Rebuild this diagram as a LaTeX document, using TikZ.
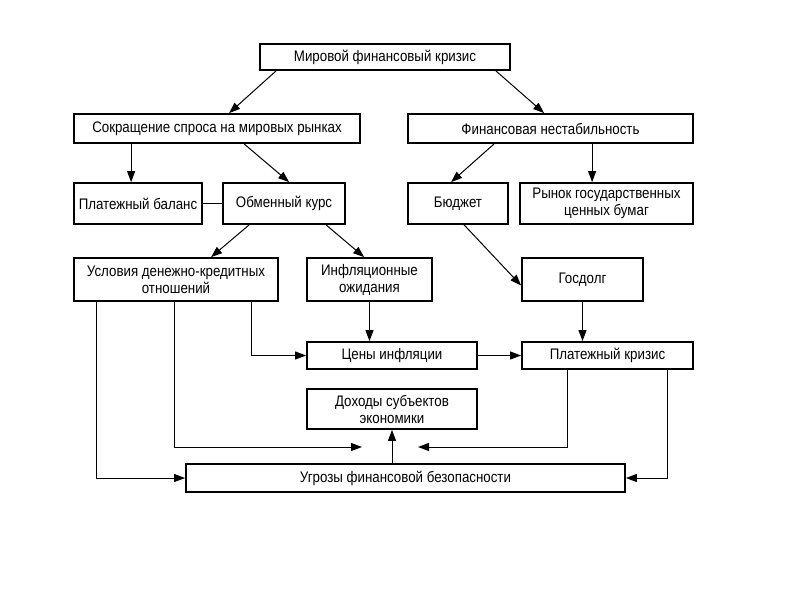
\documentclass[tikz,border=0pt]{standalone}
\usepackage{fontspec}
\setmainfont{Liberation Sans}[FakeStretch=0.87]
\usetikzlibrary{arrows.meta}
\begin{document}
\begin{tikzpicture}[x=1pt,y=-1pt,
  box/.style={draw=black, line width=1.8pt, inner sep=0pt, align=center,
    font=\fontsize{15.3}{17}\selectfont, text=black},
  arr/.style={line width=1pt, -{Triangle[length=11pt,width=8pt]}},
  ln/.style={line width=1pt}]
\useasboundingbox (0,0) rectangle (800,600);
\fill[white] (0,0) rectangle (800,600);
\node[box, minimum width=250pt, minimum height=26pt] (top) at (385,57) {Мировой финансовый кризис};
\node[box, minimum width=286pt, minimum height=29pt] (sokr) at (217,128.5) {Сокращение спроса на мировых рынках};
\node[box, minimum width=285pt, minimum height=29pt] (fin) at (550.5,128.5) {Финансовая нестабильность};
\node[box, minimum width=128pt, minimum height=41pt] (plat) at (138,203.5) {Платежный баланс};
\node[box, minimum width=122pt, minimum height=41pt] (obm) at (284,203.5) {Обменный курс};
\node[box, minimum width=100pt, minimum height=41pt] (budg) at (458,203.5) {Бюджет};
\node[box, minimum width=173pt, minimum height=41pt] (rynok) at (606.5,203.5) {Рынок государственных\\ценных бумаг};
\node[box, minimum width=204pt, minimum height=43pt] (usl) at (176,279.5) {Условия денежно-кредитных\\отношений};
\node[box, minimum width=125pt, minimum height=43pt] (infl) at (369.5,279.5) {Инфляционные\\ожидания};
\node[box, minimum width=121pt, minimum height=43pt] (gosd) at (582.5,279.5) {Госдолг};
\node[box, minimum width=170pt, minimum height=27pt] (ceny) at (392,355.5) {Цены инфляции};
\node[box, minimum width=171pt, minimum height=27pt] (pk) at (607.5,355.5) {Платежный кризис};
\node[box, minimum width=170pt, minimum height=40pt] (doh) at (392,409) {Доходы субъектов\\экономики};
\node[box, minimum width=439pt, minimum height=28pt] (ugr) at (405.5,478) {Угрозы финансовой безопасности};
\coordinate (c1) at (362,447);
\coordinate (c2) at (418,447);
% connectors
\draw[arr] ([xshift=17pt]top.south west) -- ([xshift=156pt]sokr.north west);
\draw[arr] ([xshift=-15pt]top.south east) -- ([xshift=137pt]fin.north west);
\draw[arr] ([xshift=58pt]sokr.south west) -- ([xshift=58pt]sokr.south west |- plat.north);
\draw[arr] ([xshift=171pt]sokr.south west) -- ([xshift=67pt]obm.north west);
\draw[ln] (plat.east) -- (obm.west);
\draw[arr] ([xshift=87pt]fin.south west) -- ([xshift=44pt]budg.north west);
\draw[arr] ([xshift=185pt]fin.south west) -- ([xshift=185pt]fin.south west |- rynok.north);
\draw[arr] ([xshift=27pt]obm.south west) -- ([xshift=138pt]usl.north west);
\draw[arr] ([xshift=104pt]obm.south west) -- ([xshift=58pt]infl.north west);
\draw[arr] ([xshift=57pt]budg.south west) -- ([yshift=-6pt]gosd.west);
\draw[arr] (infl.south) -- (infl.south |- ceny.north);
\draw[arr] ([xshift=178pt]usl.south west) |- (ceny.west);
\draw[arr] (ceny.east) -- (pk.west);
\draw[arr] (gosd.south) -- (gosd.south |- pk.north);
\draw[arr] ([xshift=23pt]usl.south west) |- (ugr.west);
\draw[arr] ([xshift=101pt]usl.south west) |- (c1);
\draw[arr] ([xshift=46pt]pk.south west) |- (c2);
\draw[arr] ([xshift=146pt]pk.south west) |- (ugr.east);
\draw[arr] (doh.south |- ugr.north) -- (doh.south);
\end{tikzpicture}
\end{document}
